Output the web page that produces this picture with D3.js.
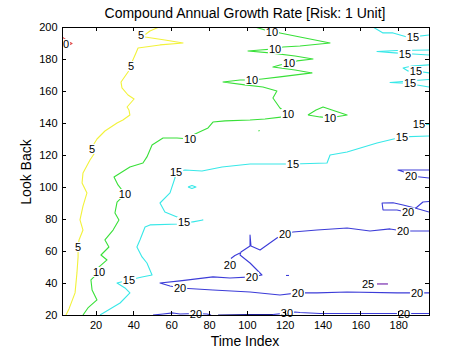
<!DOCTYPE html>
<html><head><meta charset="utf-8">
<script src="https://cdn.jsdelivr.net/npm/d3@7"></script>
<style>
body{margin:0;background:#fff}
svg{display:block}
text{font-family:"Liberation Sans",Arial,Helvetica,sans-serif;fill:#000}
</style></head><body>
<script>
const W = 474, H = 355;
const title = "Compound Annual Growth Rate [Risk: 1 Unit]";
const xLabel = "Time Index", yLabel = "Look Back";
const xDomain = [2, 196], yDomain = [20, 200];
const xTicks = [20, 40, 60, 80, 100, 120, 140, 160, 180];
const yTicks = [20, 40, 60, 80, 100, 120, 140, 160, 180, 200];
const levels = [0, 5, 10, 15, 20, 25, 30];
const levelColors = ["#e04848", "#f2f23a", "#38e038", "#38e8e8", "#3c3cd8", "#6a18a8", "#1c1c90"];

// contour lines, [time index, look back]
const c0 = [[2,193.8],[5.7,190.6],[7.3,189.7],[5.7,188.8],[3.1,188.1]];
const c5 = [[53.3,200],[48.5,197.5],[46.4,195.6],[43.8,195],[45.9,193.8],[56.4,191.9],[66,190],[53.8,188.8],[42.2,186.9],[41.1,183.8],[39,178.1],[38.5,175.6],[36.9,171.9],[33.2,165.6],[33.7,161.9],[36.9,157.5],[40.1,155],[36.4,150],[37.4,148.1],[37.9,145],[34.2,141.9],[31.1,140],[24.7,135],[20.5,130],[17.9,125],[17.9,123.8],[18.9,120.6],[16.8,116.9],[13.1,108.8],[12.6,102.5],[15.2,96.3],[13.1,88.1],[11.5,79.4],[13.1,73.1],[11,66.9],[10.5,62.5],[10.5,56.3],[9.9,46.3],[8.9,33.8],[5.7,23.8],[4.1,20]];
const c10a = [[104,200],[109.3,198.1],[113,196.9],[117.2,196.3],[127.8,193.8],[143.7,190],[127.8,188.1],[118.8,187.5],[114.6,186.3],[106.7,185.6],[100.3,185],[111.9,183.8],[125.2,181.9],[134.7,180],[126.2,178.8],[122,177.5],[117.2,176.3],[113.5,175],[125.2,173.1],[134.2,171.3],[117.2,168.8],[107.7,167.5],[102.4,166.9],[96.1,166.9],[87.1,165.6],[98.7,163.8],[108.2,162.5],[115.6,160],[113.5,155.6],[117.2,149.4],[121.5,145.6],[118.8,143.8],[109.3,142.5],[101.4,141.9],[88.2,141.3],[81.8,140.6],[79.2,136.9],[71.2,132.5],[69.7,130],[62.8,130.6],[55.4,130.6],[49.6,126.3],[46.9,118.8],[44.8,115],[37.9,112.5],[29.5,106.3],[31.6,101.3],[35.3,95.6],[31.1,90.6],[30,83.8],[32.1,79.4],[29,73.1],[24.7,66.9],[26.8,62.5],[22.6,57.5],[25.8,54.4],[21,49.4],[21.6,46.9],[17.3,41.9],[17.9,35.6],[20.5,29.4],[15.7,24.4],[13.1,20]];
const c10b = [[132,145],[136.3,148.1],[140,150],[146.3,147.5],[152.7,145],[146.3,143.8],[143.7,143.1],[138.4,143.8],[132,145]];
const c10c = [[105.8,135],[106.5,135.3]];
const c15a = [[196,131.9],[181.7,131.3],[168.5,127.5],[152.7,121.9],[143.7,120],[142.1,115],[124.1,114.4],[101.4,114.4],[86.6,112.5],[76,110],[67,110.6],[62.3,109.4],[61.7,105.6],[59.1,96.3],[53.8,90],[56.4,84.4],[62.8,81.3],[66.5,78.1],[71.2,78.1],[76.5,79.4],[64.4,76.9],[48.5,76.3],[45.9,75],[43.2,66.9],[41.6,62.5],[44.3,56.3],[46.9,52.5],[49.6,45],[44.3,43.8],[37.4,41.9],[31.1,40],[35.3,36.9],[37.9,33.8],[32.7,27.5],[22.1,20]];
const c15b = [[68.6,100],[70.7,100.9],[72.8,100],[70.7,99.1],[68.6,100]];
const c15c = [[193.9,139.1],[196,139.1]];
const c15d = [[166.4,200],[171.7,196.3],[177,196.3],[184.4,193.8],[187.5,193.8],[196,195]];
const c15e = [[196,185.6],[179.1,185.3],[168.5,184.7],[178,183.8],[183.3,183.4],[196,182.5]];
const c15f = [[196,176.3],[187,175.6],[182.3,174.4],[184.9,172.5],[189.1,172.5],[196,171.3]];
const c15g = [[196,167.2],[188.6,166.6],[175.4,165.3],[180.7,165],[186,165],[189.7,163.8],[196,162.5]];
const c20a = [[196,110.6],[179.6,110.6],[182.8,109.4],[186.5,106.9],[196,105.6]];
const c20b = [[196,84.4],[188.6,86.9],[182.3,88.8],[177,90.2],[171.2,90],[171.7,85.6],[179.1,85.6],[184.9,84.1],[189.7,87.5],[192.8,90.6],[196,90.9]];
const c20c = [[196,72.5],[182.3,72.5],[175.4,73.8],[164.8,72.5],[152.7,74.4],[136.8,73.1],[124.1,71.9],[119.9,70.6],[115.6,68.1],[106.7,60.6],[101.9,63.1],[101.4,70],[101.4,63.1],[96.6,59.4],[96.1,57.5],[101.4,52.5],[107.7,45],[102.4,43.8],[90.8,43.1],[81.8,43.8],[64.4,41.3],[53.8,40],[59.1,38.1],[64.4,36.9],[81.8,35.6],[101.4,34.4],[117.2,32.5],[126.7,33.8],[136.8,33.8],[152.7,34.4],[179.1,33.8],[189.7,33.8],[196,33.8]];
const c20d = [[96.1,58.8],[93.4,57.2],[91.3,55.3]];
const c20e = [[120.4,44.7],[122,44.7]];
const c20f = [[50.1,20],[55.4,20.6],[60.7,21.3],[64.4,20.6],[72.8,20.9],[78.6,20.6],[80.8,20]];
const c20g = [[113.5,20.25],[120.9,21.25],[125.2,21.9],[127.8,21.6],[138.4,20.9],[177,20.9],[182.8,20.9],[196,20.9]];
const c25 = [[168.5,39.4],[174.3,39.4]];
const c30 = [[84.5,20],[99.8,20.25],[113.5,20.25]];

const contourLines = [
  [0, c0], [5, c5], [10, c10a], [10, c10b], [10, c10c],
  [15, c15a], [15, c15b], [15, c15c], [15, c15d], [15, c15e], [15, c15f], [15, c15g],
  [20, c20a], [20, c20b], [20, c20c], [20, c20d], [20, c20e], [20, c20f], [20, c20g],
  [25, c25], [30, c30]
];

// contour labels [level, time index, look back]
const contourLabels = [
  [0,4.1,189.4],
  [5,43.8,195],[5,38.5,175.6],[5,17.9,123.8],[5,10.5,62.5],
  [10,113,196.9],[10,114.6,186.3],[10,122,177.5],[10,102.4,166.9],[10,121.5,145.6],[10,69.7,130],[10,35.3,95.6],[10,21.6,46.9],[10,143.7,143.1],
  [15,181.7,131.3],[15,124.1,114.4],[15,62.3,109.4],[15,66.5,78.1],[15,37.4,41.9],[15,190.7,139.4],[15,187.5,193.8],[15,183.3,183.4],[15,189.1,172.5],[15,186,165],
  [20,186.5,106.9],[20,184.9,84.1],[20,182.3,72.5],[20,119.9,70.6],[20,90.8,51.3],[20,102.4,43.8],[20,64.4,36.9],[20,126.7,33.8],[20,189.7,33.8],[20,72.8,20.9],[20,182.8,20.9],
  [25,163.8,39.4],
  [30,120.9,21.25]
];

const m = {left: 62, right: 429, top: 27, bottom: 315};
const x = d3.scaleLinear().domain(xDomain).range([m.left, m.right]);
const y = d3.scaleLinear().domain(yDomain).range([m.bottom, m.top]);
const color = d3.scaleOrdinal().domain(levels).range(levelColors);

const svg = d3.select("body").append("svg").attr("width", W).attr("height", H);
const defs = svg.append("defs");
defs.append("clipPath").attr("id", "plotclip").append("rect")
  .attr("x", m.left).attr("y", m.top).attr("width", m.right - m.left).attr("height", m.bottom - m.top);
const mask = defs.append("mask").attr("id", "lblmask").attr("maskUnits", "userSpaceOnUse")
  .attr("x", 0).attr("y", 0).attr("width", W).attr("height", H);
mask.append("rect").attr("width", W).attr("height", H).attr("fill", "#fff");

const line = d3.line().x(d => x(d[0])).y(d => y(d[1]));
const lg = svg.append("g").attr("clip-path", "url(#plotclip)").append("g").attr("mask", "url(#lblmask)");
lg.selectAll("path").data(contourLines).join("path")
  .attr("d", d => line(d[1]))
  .attr("fill", "none")
  .attr("stroke", d => color(d[0]))
  .attr("stroke-width", 1.1)
  .attr("stroke-linejoin", "round");

const labG = svg.append("g");
labG.selectAll("text").data(contourLabels).join("text")
  .attr("x", d => x(d[1])).attr("y", d => y(d[2]))
  .attr("text-anchor", "middle").attr("dominant-baseline", "central")
  .attr("font-size", 11)
  .text(d => d[0])
  .each(function() {
    const b = this.getBBox();
    mask.append("rect").attr("x", b.x - 1).attr("y", b.y + 1).attr("width", b.width + 2).attr("height", b.height - 2).attr("fill", "#000");
  });

// axes box and ticks
const ax = svg.append("g").attr("stroke", "#000").attr("stroke-width", 1).attr("shape-rendering", "crispEdges");
ax.append("rect").attr("x", m.left).attr("y", m.top).attr("width", m.right - m.left).attr("height", m.bottom - m.top).attr("fill", "none");
const tl = 4;
xTicks.forEach(t => {
  ax.append("line").attr("x1", x(t)).attr("x2", x(t)).attr("y1", m.bottom).attr("y2", m.bottom - tl);
  ax.append("line").attr("x1", x(t)).attr("x2", x(t)).attr("y1", m.top).attr("y2", m.top + tl);
});
yTicks.forEach(t => {
  ax.append("line").attr("x1", m.left).attr("x2", m.left + tl).attr("y1", y(t)).attr("y2", y(t));
  ax.append("line").attr("x1", m.right).attr("x2", m.right - tl).attr("y1", y(t)).attr("y2", y(t));
});
svg.append("g").selectAll("text").data(xTicks).join("text")
  .attr("x", d => x(d)).attr("y", 329).attr("text-anchor", "middle").attr("font-size", 11).text(d => d);
svg.append("g").selectAll("text").data(yTicks).join("text")
  .attr("x", 57.5).attr("y", d => y(d)).attr("text-anchor", "end").attr("dominant-baseline", "central").attr("font-size", 11).text(d => d);

svg.append("text").attr("x", 245).attr("y", 18).attr("text-anchor", "middle").attr("font-size", 14).text(title);
svg.append("text").attr("x", 245).attr("y", 345.5).attr("text-anchor", "middle").attr("font-size", 14).text(xLabel);
svg.append("text").attr("transform", "translate(31,172) rotate(-90)").attr("text-anchor", "middle").attr("font-size", 14).text(yLabel);
</script>
</body></html>
